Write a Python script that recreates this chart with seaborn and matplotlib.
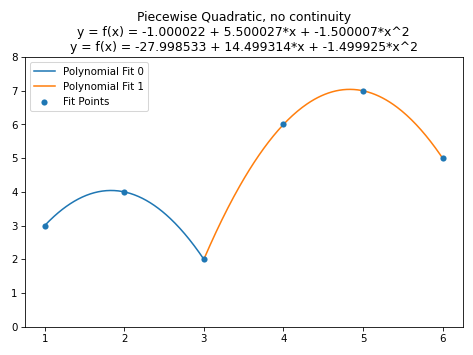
import numpy as np
import pandas as pd
import matplotlib.pyplot as plt
import seaborn as sns

# data points
x_pts = [1, 2, 3, 4, 5, 6]
y_pts = [3, 4, 2, 6, 7, 5]

# fitted coefficients (c0, c1, c2) and their x ranges
coef0 = [-1.000022, 5.500027, -1.500007]
coef1 = [-27.998533, 14.499314, -1.499925]
range0 = (1, 3)
range1 = (3, 6)

def curve(coef, xr):
    xs = np.linspace(xr[0], xr[1], 200)
    return pd.DataFrame({'x': xs, 'y': coef[0] + coef[1] * xs + coef[2] * xs ** 2})

fig, ax = plt.subplots(figsize=(6.4, 4.8), dpi=74)
sns.lineplot(data=curve(coef0, range0), x='x', y='y', color='C0', label='Polynomial Fit 0', ax=ax)
sns.lineplot(data=curve(coef1, range1), x='x', y='y', color='C1', label='Polynomial Fit 1', ax=ax)
sns.scatterplot(x=x_pts, y=y_pts, color='C0', s=36, linewidth=0, label='Fit Points', ax=ax, zorder=3)

ax.set_ylim(0, 8)
ax.set_xlabel('')
ax.set_ylabel('')
ax.set_title('Piecewise Quadratic, no continuity\n'
             'y = f(x) = -1.000022 + 5.500027*x + -1.500007*x^2\n'
             'y = f(x) = -27.998533 + 14.499314*x + -1.499925*x^2')
ax.legend(loc='upper left')
plt.tight_layout()
plt.savefig('out.png', dpi=74)
